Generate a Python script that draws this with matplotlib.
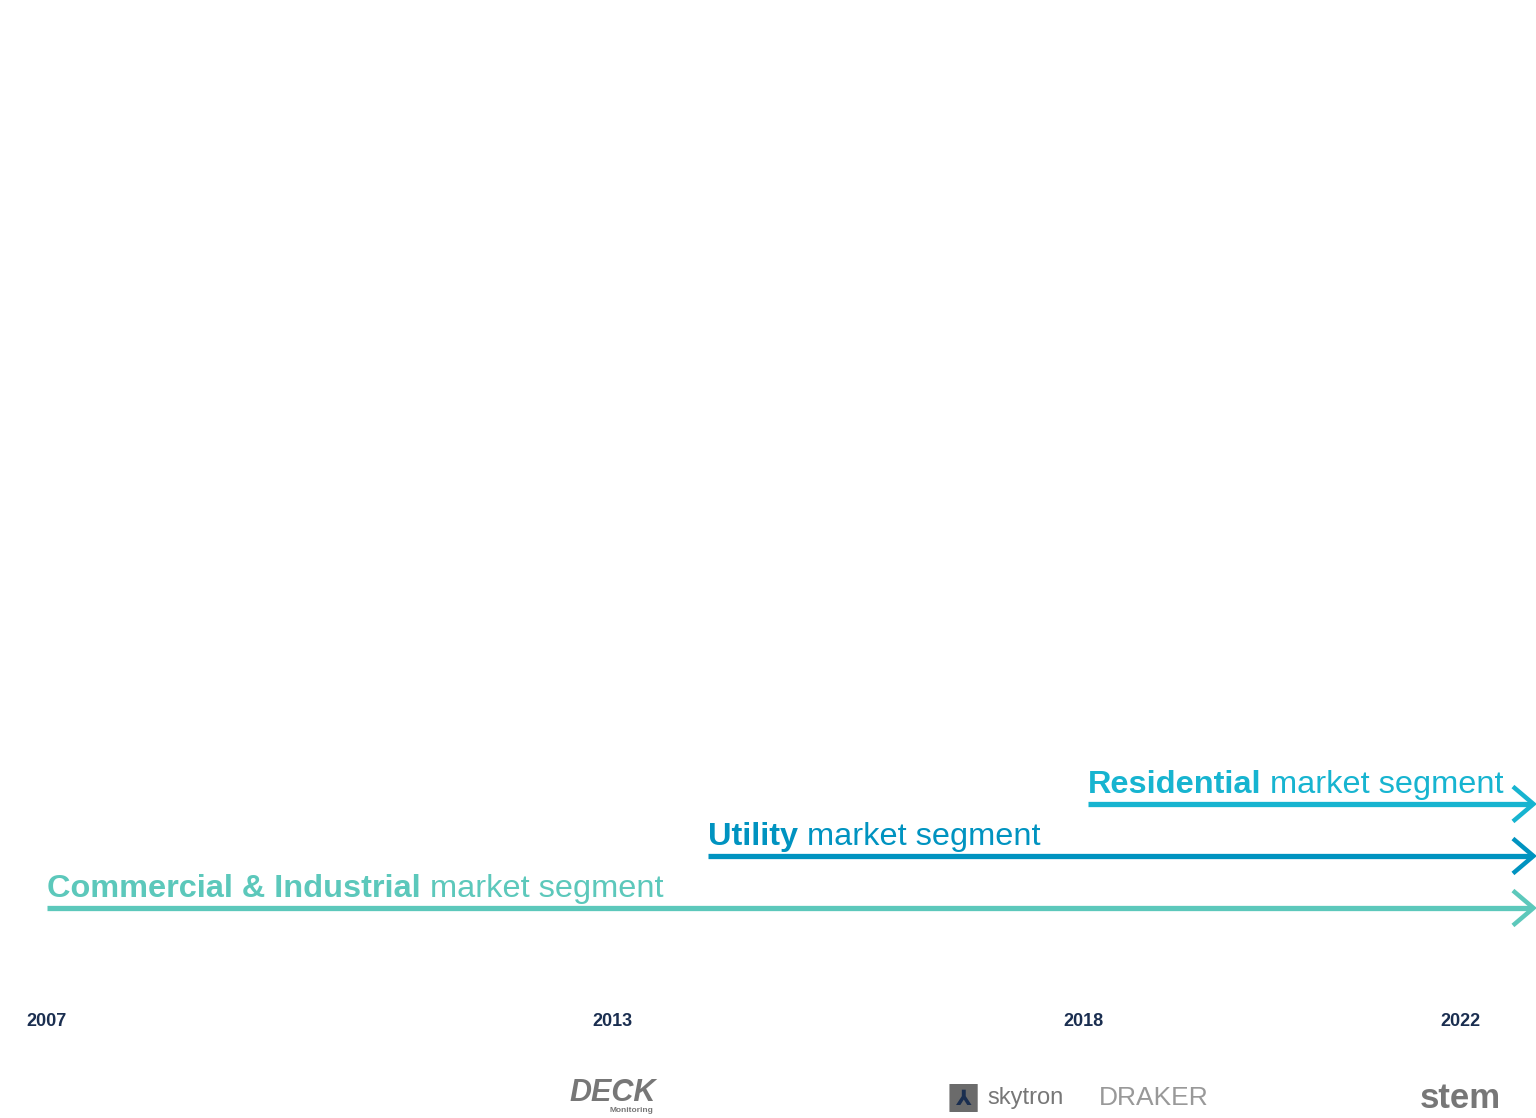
import matplotlib
matplotlib.use("Agg")
import matplotlib.pyplot as plt
from matplotlib.patches import FancyBboxPatch

years = [2007, 2013, 2018, 2022]
seg_bold = ["Commercial & Industrial", "Utility", "Residential"]
seg_rest = [" market segment", " market segment", " market segment"]
seg_start = [2007.0, 2014.02, 2018.05]
seg_end = 2022.78
seg_row = [908, 856, 804]
seg_colors = ["#5cc8bb", "#0093c0", "#17b4d0"]
logos = ["DECK", "skytron", "DRAKER", "stem"]
logo_x = [2013.0, 2017.39, 2018.75, 2022.0]

fig = plt.figure(figsize=(15.36, 11.18), dpi=100)
ax = fig.add_axes([0, 0, 1, 1])
ppy = 94.2
x0 = 2007 - 47 / ppy
ax.set_xlim(x0, x0 + 1536 / ppy)
ax.set_ylim(1118, 0)
ax.axis("off")

for b, r, s, y, c in zip(seg_bold, seg_rest, seg_start, seg_row, seg_colors):
    ax.plot([s, seg_end - 0.02], [y, y], color=c, lw=3.8, solid_capstyle="butt")
    ax.plot([seg_end - 0.2, seg_end, seg_end - 0.2], [y - 16, y, y + 16], color=c, lw=3.2,
            solid_joinstyle="miter")
    t = ax.text(s, y - 11, b, color=c, fontsize=23.4, fontweight="bold", ha="left", va="baseline",
                family="Liberation Sans")
    fig.canvas.draw()
    bb = t.get_window_extent()
    xe = ax.transData.inverted().transform((bb.x1, 0))[0]
    ax.text(xe, y - 11, r, color=c, fontsize=23.4, ha="left", va="baseline", family="Liberation Sans")

for yr in years:
    ax.text(yr, 1022, str(yr), color="#1a2e50", fontsize=13, fontweight="bold", ha="center",
            va="center", family="Liberation Sans")

ax.text(logo_x[0], 1093, logos[0], color="#777777", fontsize=22, fontweight="bold", style="italic",
        ha="center", va="center", family="Liberation Sans")
ax.text(logo_x[0] + 0.2, 1111, "Monitoring", color="#777777", fontsize=6, fontweight="bold",
        ha="center", va="center", family="Liberation Sans")
ax.add_patch(FancyBboxPatch((2016.58, 1084), 0.30, 28, boxstyle="round,pad=0,rounding_size=0.05",
                            color="#6b6b6b", lw=0))
ax.text(2016.73, 1099, "⅄", color="#1a2e50", fontsize=15, fontweight="bold", ha="center", va="center",
        family="DejaVu Sans")
ax.text(logo_x[1], 1098, logos[1], color="#777777", fontsize=17, ha="center", va="center",
        family="Liberation Sans")
ax.text(logo_x[2], 1098, logos[2], color="#999999", fontsize=19, ha="center", va="center",
        family="Liberation Sans")
ax.text(logo_x[3], 1099, logos[3], color="#777777", fontsize=25, fontweight="bold", ha="center",
        va="center", family="Liberation Sans")

fig.savefig("out.png", dpi=100)
